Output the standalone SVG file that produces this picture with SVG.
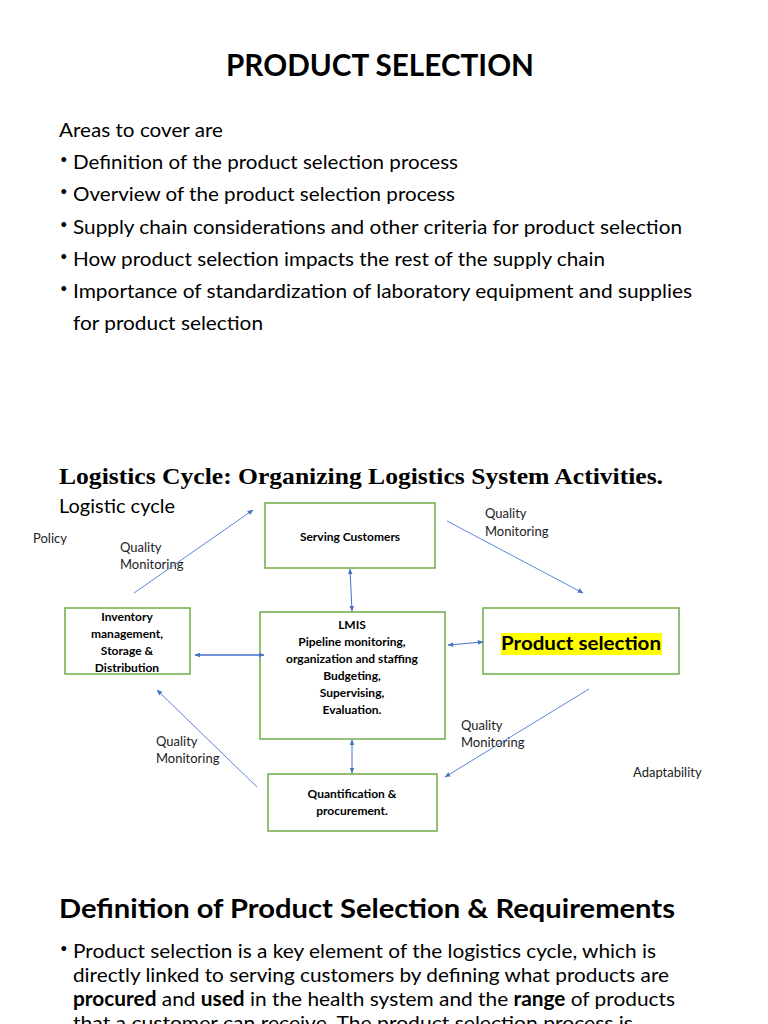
<svg xmlns="http://www.w3.org/2000/svg" width="768" height="1024" viewBox="0 0 768 1024">
<style>
text{font-family:Lato,"Open Sans","Liberation Sans",sans-serif;fill:#000}
.title{font-size:30px;font-weight:bold}
.body{font-size:20px}
.bul{font-size:13px}
.small{font-size:13px;fill:#222}
.node{font-size:12px;font-weight:bold;text-anchor:middle}
.box{fill:#fff;stroke:#70AD47;stroke-width:1.5}
.conn{stroke:#4472C4;stroke-width:1;fill:none}
.diag{stroke:#5B86D6;stroke-width:1;fill:none}
.serif{font-family:"Liberation Serif","Times New Roman",serif;font-weight:bold;font-size:24px}
</style>
<defs>
<marker id="ah" viewBox="0 0 10 10" refX="9" refY="5" markerWidth="6" markerHeight="6" orient="auto-start-reverse" markerUnits="userSpaceOnUse">
<path d="M0,1 L10,5 L0,9 z" fill="#4472C4"/>
</marker>
</defs>
<rect width="768" height="1024" fill="#fff"/>
<text class="title" x="380" y="76" text-anchor="middle" textLength="308" lengthAdjust="spacingAndGlyphs">PRODUCT SELECTION</text>
<text class="body" x="59" y="137" textLength="164" lengthAdjust="spacingAndGlyphs">Areas to cover are</text>
<text class="bul" x="60" y="164">•</text>
<text class="body" x="73" y="169" textLength="385" lengthAdjust="spacingAndGlyphs">Definition of the product selection process</text>
<text class="bul" x="60" y="196">•</text>
<text class="body" x="73" y="201" textLength="382" lengthAdjust="spacingAndGlyphs">Overview of the product selection process</text>
<text class="bul" x="60" y="229">•</text>
<text class="body" x="73" y="234" textLength="609" lengthAdjust="spacingAndGlyphs">Supply chain considerations and other criteria for product selection</text>
<text class="bul" x="60" y="261">•</text>
<text class="body" x="73" y="266" textLength="532" lengthAdjust="spacingAndGlyphs">How product selection impacts the rest of the supply chain</text>
<text class="bul" x="60" y="293">•</text>
<text class="body" x="73" y="298" textLength="619" lengthAdjust="spacingAndGlyphs">Importance of standardization of laboratory equipment and supplies</text>
<text class="body" x="73" y="330" textLength="190" lengthAdjust="spacingAndGlyphs">for product selection</text>
<text class="serif" x="59" y="484" textLength="604" lengthAdjust="spacingAndGlyphs">Logistics Cycle: Organizing Logistics System Activities.</text>
<text class="body" x="59" y="513" textLength="116" lengthAdjust="spacingAndGlyphs">Logistic cycle</text>
<g id="labels">
<text class="small" x="33" y="543">Policy</text>
<text class="small" x="120" y="552">Quality</text>
<text class="small" x="120" y="569">Monitoring</text>
<text class="small" x="485" y="518">Quality</text>
<text class="small" x="485" y="536">Monitoring</text>
<text class="small" x="156" y="746">Quality</text>
<text class="small" x="156" y="763">Monitoring</text>
<text class="small" x="461" y="730">Quality</text>
<text class="small" x="461" y="747">Monitoring</text>
<text class="small" x="633" y="777">Adaptability</text>
</g>
<g id="serving">
<rect class="box" x="265" y="503" width="170" height="65"/>
<text class="node" x="350" y="541">Serving Customers</text>
</g>
<g id="inventory">
<rect class="box" x="65" y="608" width="125" height="66"/>
<text class="node" x="127" y="621">Inventory</text>
<text class="node" x="127" y="638">management,</text>
<text class="node" x="127" y="655">Storage &amp;</text>
<text class="node" x="127" y="672">Distribution</text>
</g>
<g id="lmis">
<rect class="box" x="260" y="612" width="185" height="127"/>
<text class="node" x="352" y="629">LMIS</text>
<text class="node" x="352" y="646">Pipeline monitoring,</text>
<text class="node" x="352" y="663">organization and staffing</text>
<text class="node" x="352" y="680">Budgeting,</text>
<text class="node" x="352" y="697">Supervising,</text>
<text class="node" x="352" y="714">Evaluation.</text>
</g>
<g id="product">
<rect class="box" x="483" y="608" width="196" height="66"/>
<rect x="501" y="633" width="161" height="22" fill="#FFFF00"/>
<text x="581" y="650" text-anchor="middle" font-size="18" font-weight="bold" textLength="160" lengthAdjust="spacingAndGlyphs">Product selection</text>
</g>
<g id="quantification">
<rect class="box" x="268" y="774" width="169" height="57"/>
<text class="node" x="352" y="798">Quantification &amp;</text>
<text class="node" x="352" y="815">procurement.</text>
</g>
<g id="connectors">
<line class="diag" x1="134" y1="593" x2="253" y2="510" marker-end="url(#ah)"/>
<line class="diag" x1="447" y1="521" x2="583" y2="593" marker-end="url(#ah)"/>
<line class="diag" x1="589" y1="689" x2="445" y2="777" marker-end="url(#ah)"/>
<line class="diag" x1="257" y1="787" x2="157" y2="690" marker-end="url(#ah)"/>
<line class="conn" x1="350" y1="569" x2="352" y2="611" marker-start="url(#ah)" marker-end="url(#ah)"/>
<line class="conn" x1="195" y1="655" x2="264" y2="655" marker-start="url(#ah)" marker-end="url(#ah)" style="stroke-width:1.5"/>
<line class="conn" x1="448" y1="645" x2="483" y2="642" marker-start="url(#ah)" marker-end="url(#ah)"/>
<line class="conn" x1="352" y1="740" x2="352" y2="773" marker-start="url(#ah)" marker-end="url(#ah)"/>
</g>
<text x="59" y="918" font-size="27" font-weight="bold" textLength="616" lengthAdjust="spacingAndGlyphs">Definition of Product Selection &amp; Requirements</text>
<text class="bul" x="60" y="953">•</text>
<text class="body" x="73" y="958" textLength="583" lengthAdjust="spacingAndGlyphs">Product selection is a key element of the logistics cycle,  which is</text>
<text class="body" x="73" y="982" textLength="596" lengthAdjust="spacingAndGlyphs">directly linked to serving customers by defining what products are</text>
<text class="body" x="73" y="1006" textLength="602" lengthAdjust="spacingAndGlyphs"><tspan font-weight="bold">procured</tspan> and <tspan font-weight="bold">used</tspan> in the health system and the <tspan font-weight="bold">range</tspan> of products</text>
<text class="body" x="73" y="1030" textLength="560" lengthAdjust="spacingAndGlyphs">that a customer can receive. The product selection process is</text>
</svg>
